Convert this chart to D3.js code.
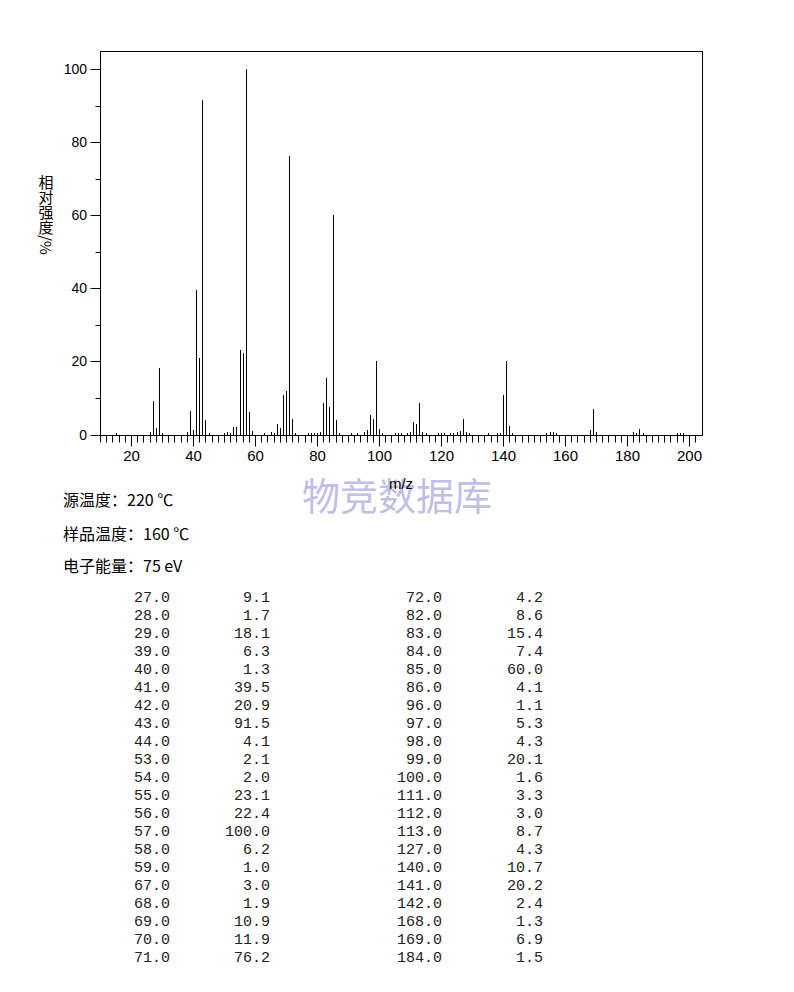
<!DOCTYPE html>
<html>
<head>
<meta charset="utf-8">
<script src="https://cdn.jsdelivr.net/npm/d3@7/dist/d3.min.js"></script>
<style>
  html, body { margin: 0; padding: 0; background: #fff; }
  svg { display: block; }
</style>
</head>
<body>
<svg id="chart" width="794" height="992"></svg>
<script>
// m/z values and relative intensities (%) of all drawn peaks
const mzValues = [15, 26, 27, 28, 29, 30, 38, 39, 40, 41, 42, 43, 44, 45, 50, 51, 52, 53, 54, 55, 56, 57, 58, 59,
  63, 65, 66, 67, 68, 69, 70, 71, 72, 73, 77, 78, 79, 80, 81, 82, 83, 84, 85, 86, 87, 91, 93, 95, 96, 97, 98, 99, 100, 101,
  105, 106, 107, 109, 110, 111, 112, 113, 114, 115, 119, 120, 121, 123, 124, 125, 126, 127, 128, 129,
  135, 138, 139, 140, 141, 142, 143, 154, 155, 156, 157, 168, 169, 170, 182, 183, 184, 185, 196, 197, 198];
const intensities = [0.4, 0.8, 9.1, 1.7, 18.1, 0.5, 0.7, 6.3, 1.3, 39.5, 20.9, 91.5, 4.1, 0.4, 0.4, 0.8, 0.5, 2.1, 2.0, 23.1, 22.4, 100.0, 6.2, 1.0,
  0.3, 0.8, 0.5, 3.0, 1.9, 10.9, 11.9, 76.2, 4.2, 0.4, 0.5, 0.3, 0.4, 0.3, 0.7, 8.6, 15.4, 7.4, 60.0, 4.1, 0.3, 0.3, 0.3, 0.8, 1.1, 5.3, 4.3, 20.1, 1.6, 0.5,
  0.3, 0.3, 0.3, 0.5, 0.8, 3.3, 3.0, 8.7, 0.8, 0.3, 0.3, 0.3, 0.3, 0.4, 0.4, 0.7, 0.9, 4.3, 0.7, 0.3,
  0.3, 0.4, 0.4, 10.7, 20.2, 2.4, 0.4, 0.4, 0.6, 0.7, 0.4, 1.3, 6.9, 0.8, 0.6, 0.4, 1.5, 0.4, 0.4, 0.5, 0.5];

const xMajorTicks = [20, 40, 60, 80, 100, 120, 140, 160, 180, 200];
const yMajorTicks = [0, 20, 40, 60, 80, 100];
const yMinorTicks = [10, 30, 50, 70, 90];
const xLabel = "m/z";
const yLabel = "相对强度/%";
const infoLines = ["源温度：220 ℃", "样品温度：160 ℃", "电子能量：75 eV"];
const watermark = "物竞数据库";

(function () {
const svg = d3.select("#chart");
const x = d3.scaleLinear().domain([10, 204]).range([100, 701.5]);
const y = d3.scaleLinear().domain([0, 100]).range([434.5, 69]);
const crisp = v => Math.round(v) + 0.5;

const fL = crisp(x(10)), fR = crisp(x(204)), fT = crisp(y(105)), fB = crisp(y(0));

// watermark (behind)
svg.append("text")
  .attr("x", 397).attr("y", 510)
  .attr("text-anchor", "middle")
  .attr("font-family", "'Noto Sans CJK SC', sans-serif")
  .attr("font-size", 38)
  .attr("fill", "#bfbfe8")
  .text(watermark);

// frame
svg.append("rect")
  .attr("x", fL).attr("y", fT)
  .attr("width", fR - fL).attr("height", fB - fT)
  .attr("fill", "none").attr("stroke", "#000").attr("stroke-width", 1);

// peaks
const peaks = mzValues.map((m, i) => ({ mz: m, v: intensities[i] }));
svg.append("g").selectAll("line").data(peaks).join("line")
  .attr("x1", d => crisp(x(d.mz))).attr("x2", d => crisp(x(d.mz)))
  .attr("y1", fB).attr("y2", d => Math.min(fB - 1, Math.round(y(d.v))))
  .attr("stroke", "#000").attr("stroke-width", 1);

// x axis ticks
const xMinor = d3.range(10, 204, 2).filter(v => !xMajorTicks.includes(v));
const gx = svg.append("g");
gx.selectAll("line.minor").data(xMinor).join("line").attr("class", "minor")
  .attr("x1", d => crisp(x(d))).attr("x2", d => crisp(x(d)))
  .attr("y1", fB).attr("y2", fB + 7).attr("stroke", "#000");
gx.selectAll("line.major").data(xMajorTicks).join("line").attr("class", "major")
  .attr("x1", d => crisp(x(d))).attr("x2", d => crisp(x(d)))
  .attr("y1", fB).attr("y2", fB + 11).attr("stroke", "#000");
gx.selectAll("text").data(xMajorTicks).join("text")
  .attr("x", d => crisp(x(d))).attr("y", 461)
  .attr("text-anchor", "middle")
  .attr("font-family", "'Liberation Sans', Arial, sans-serif")
  .attr("font-size", 15).attr("fill", "#000")
  .text(d => d);

// y axis ticks
const gy = svg.append("g");
gy.selectAll("line.minor").data(yMinorTicks).join("line").attr("class", "minor")
  .attr("y1", d => crisp(y(d))).attr("y2", d => crisp(y(d)))
  .attr("x1", fL).attr("x2", fL - 5).attr("stroke", "#000");
gy.selectAll("line.major").data(yMajorTicks).join("line").attr("class", "major")
  .attr("y1", d => crisp(y(d))).attr("y2", d => crisp(y(d)))
  .attr("x1", fL).attr("x2", fL - 10).attr("stroke", "#000");
gy.selectAll("text").data(yMajorTicks).join("text")
  .attr("x", 87).attr("y", d => y(d) + 5)
  .attr("text-anchor", "end")
  .attr("font-family", "'Liberation Sans', Arial, sans-serif")
  .attr("font-size", 14).attr("fill", "#000")
  .text(d => d);

// axis labels
svg.append("text")
  .attr("x", 401).attr("y", 489)
  .attr("text-anchor", "middle")
  .attr("font-family", "'Liberation Sans', Arial, sans-serif")
  .attr("font-size", 15).attr("fill", "#000")
  .text(xLabel);

svg.append("text")
  .attr("x", 46).attr("y", 175)
  .style("writing-mode", "vertical-rl")
  .attr("font-family", "'Noto Sans CJK SC', sans-serif")
  .attr("font-size", 15).attr("fill", "#000")
  .text(yLabel);

// info lines
svg.append("g").selectAll("text").data(infoLines).join("text")
  .attr("x", 63).attr("y", (d, i) => [506, 540, 572][i])
  .attr("font-family", "'Noto Sans CJK SC', sans-serif")
  .attr("font-size", 16).attr("fill", "#000")
  .text(d => d);

// peak table: intensities >= 1.0, split into two columns
const listed = peaks.filter(p => p.v >= 1.0);
const half = Math.ceil(listed.length / 2);
const cols = [listed.slice(0, half), listed.slice(half)];
const colX = [[170, 270], [442, 543]];
const tbl = svg.append("g")
  .attr("font-family", "'Liberation Mono', 'Courier New', monospace")
  .attr("font-size", 15).attr("fill", "#222");
cols.forEach((col, ci) => {
  tbl.append("g").selectAll("text").data(col).join("text")
    .attr("x", colX[ci][0]).attr("y", (d, i) => 602 + i * 18)
    .attr("text-anchor", "end").text(d => d.mz.toFixed(1));
  tbl.append("g").selectAll("text").data(col).join("text")
    .attr("x", colX[ci][1]).attr("y", (d, i) => 602 + i * 18)
    .attr("text-anchor", "end").text(d => d.v.toFixed(1));
});
})();
</script>
</body>
</html>
